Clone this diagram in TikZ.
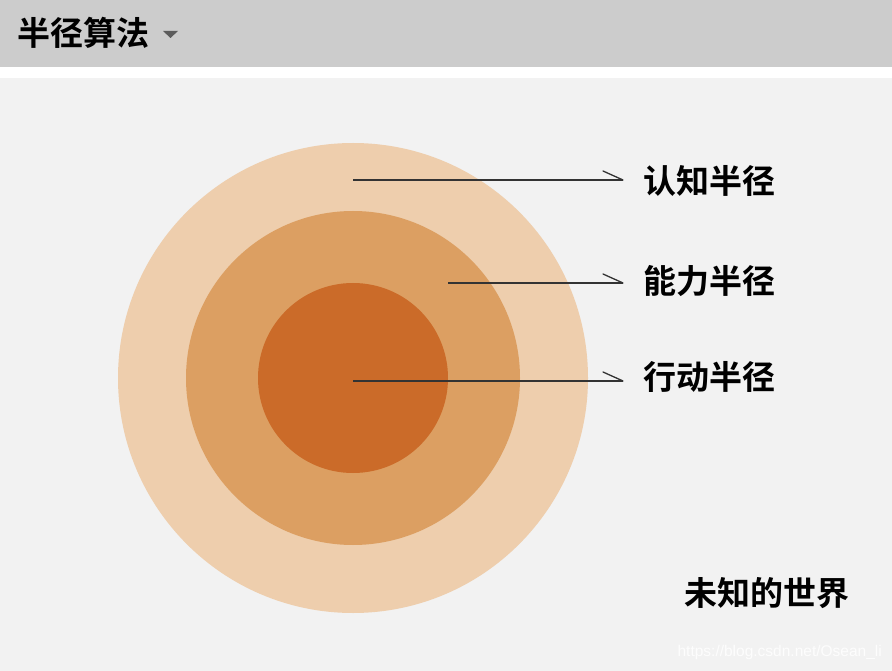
\documentclass[tikz,border=0pt]{standalone}
\usepackage{fontspec}
\newfontfamily\cjk{Noto Sans CJK SC}[BoldFont={Noto Sans CJK SC Bold}]
\setmainfont{Liberation Sans}
\definecolor{hdr}{HTML}{CCCCCC}
\definecolor{bg}{HTML}{F2F2F2}
\definecolor{outerc}{HTML}{EECEAD}
\definecolor{midc}{HTML}{DC9F62}
\definecolor{innerc}{HTML}{CB6B29}
\definecolor{linec}{HTML}{333333}
\tikzset{
  lbl/.style={anchor=west, inner sep=0pt, font=\cjk\bfseries\fontsize{33}{33}\selectfont, text=black},
  ray/.style={draw=linec, line width=1.3pt},
  barb/.style={draw=linec, line width=1.3pt},
}
\begin{document}
\begin{tikzpicture}[x=1pt,y=-1pt]
\useasboundingbox (0,0) rectangle (892,671);
\fill[bg] (0,0) rectangle (892,671);
\fill[hdr] (0,0) rectangle (892,67);
\fill[white] (0,67) rectangle (892,78);
\node[lbl] (title) at (17,33) {半径算法};
\fill[linec!80] (163,31) -- (178,31) -- (170.5,38) -- cycle;
% circles
\fill[outerc] (353,378) circle (235);
\fill[midc] (353,378) circle (167);
\fill[innerc] (353,378) circle (95);
\coordinate (c) at (353,378);
% labels
\node[lbl] (l1) at (643,181) {认知半径};
\node[lbl] (l2) at (643,281) {能力半径};
\node[lbl] (l3) at (643,377) {行动半径};
\node[lbl] (l4) at (684,593) {未知的世界};
% rays
\coordinate (s1) at (353,180);
\coordinate (e1) at (623,180);
\coordinate (s2) at (448,283);
\coordinate (e2) at (623,283);
\coordinate (s3) at (353,381);
\coordinate (e3) at (623,381);
\foreach \s/\e in {s1/e1,s2/e2,s3/e3}{
  \draw[ray] (\s) -- (\e);
  \draw[barb, line cap=round] (\e) -- ++(-20,-9);
}
\node[anchor=east, inner sep=0pt, font=\fontsize{15.5}{15.5}\selectfont, text=white!85!bg] (wm) at (882,652) {https://blog.csdn.net/Osean\_li};
\end{tikzpicture}
\end{document}
